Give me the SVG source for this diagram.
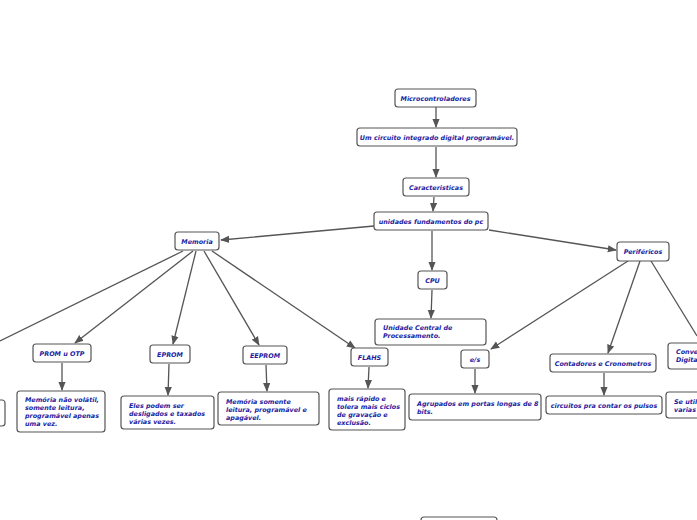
<svg xmlns="http://www.w3.org/2000/svg" width="697" height="520" viewBox="0 0 697 520">
<style>
rect{fill:#fff;stroke:#555;stroke-width:1.2}
text{font-family:"DejaVu Sans",Verdana,sans-serif;font-size:6.4px;font-weight:bold;font-style:italic;fill:#1c1ca0}
.c{text-anchor:middle}
#edges line{stroke:#555;stroke-width:1.3;marker-end:url(#a)}
</style>
<defs><marker id="a" viewBox="0 0 10 10" refX="9" refY="5" markerWidth="7" markerHeight="7" orient="auto"><path d="M0,1L10,5L0,9z" fill="#555"/></marker></defs>
<rect width="697" height="520" style="fill:#fff;stroke:none"/>
<g id="edges">
<line x1="436" y1="107" x2="436" y2="127"/>
<line x1="436" y1="147" x2="436" y2="177"/>
<line x1="434" y1="197" x2="433" y2="211"/>
<line x1="374" y1="226" x2="221" y2="240"/>
<line x1="432" y1="231" x2="432" y2="270"/>
<line x1="432" y1="290" x2="431" y2="318"/>
<line x1="489" y1="230" x2="616" y2="250"/>
<line x1="183" y1="251" x2="0" y2="341" style="marker-end:none"/>
<line x1="193" y1="251" x2="75" y2="343"/>
<line x1="196" y1="251" x2="173" y2="344"/>
<line x1="204" y1="251" x2="259" y2="345"/>
<line x1="212" y1="251" x2="355" y2="348"/>
<line x1="628" y1="261" x2="491" y2="349"/>
<line x1="640" y1="261" x2="608" y2="353"/>
<line x1="651" y1="261" x2="697" y2="336" style="marker-end:none"/>
<line x1="62" y1="363" x2="62" y2="390"/>
<line x1="169" y1="364" x2="168" y2="395"/>
<line x1="266" y1="365" x2="267" y2="391"/>
<line x1="369" y1="367" x2="368" y2="388"/>
<line x1="475" y1="369" x2="475" y2="393"/>
<line x1="604" y1="373" x2="604" y2="395"/>
</g>
<g id="n1"><rect x="395" y="89" width="81" height="18" rx="3"/><text x="435.5" y="100.5" class="c">Microcontroladores</text></g>
<g id="n2"><rect x="357" y="128" width="160" height="18" rx="3"/><text x="437" y="139.5" class="c">Um circuito integrado digital programável.</text></g>
<g id="n3"><rect x="403" y="178" width="66" height="18" rx="3"/><text x="436" y="189.5" class="c">Caracteristicas</text></g>
<g id="n4"><rect x="374" y="212" width="114" height="18" rx="3"/><text x="431" y="223.5" class="c">unidades fundamentos do pc</text></g>
<g id="n5"><rect x="175" y="232" width="44" height="18" rx="3"/><text x="197" y="243.5" class="c">Memoria</text></g>
<g id="n6"><rect x="418" y="271" width="29" height="18" rx="3"/><text x="432.5" y="282.5" class="c">CPU</text></g>
<g id="n7"><rect x="617" y="242" width="52" height="19" rx="3"/><text x="643" y="253.5" class="c">Periféricos</text></g>
<g id="n8"><rect x="375" y="319" width="111" height="26" rx="3"/><text x="383" y="330">Unidade Central de</text><text x="383" y="338">Processamento.</text></g>
<g id="n9"><rect x="33" y="344" width="58" height="18" rx="3"/><text x="62" y="355.5" class="c">PROM u OTP</text></g>
<g id="n10"><rect x="150" y="345" width="40" height="18" rx="3"/><text x="170" y="356.5" class="c">EPROM</text></g>
<g id="n11"><rect x="243" y="346" width="44" height="18" rx="3"/><text x="265" y="357.5" class="c">EEPROM</text></g>
<g id="n12"><rect x="351" y="348" width="37" height="18" rx="3"/><text x="369.5" y="359.5" class="c">FLAHS</text></g>
<g id="n13"><rect x="461" y="350" width="28" height="18" rx="3"/><text x="475" y="361.5" class="c">e/s</text></g>
<g id="n14"><rect x="550" y="354" width="106" height="18" rx="3"/><text x="603" y="365.5" class="c">Contadores e Cronometros</text></g>
<g id="n15"><rect x="668" y="343" width="40" height="26" rx="3"/><text x="676" y="354">Conve</text><text x="676" y="362">Digita</text></g>
<g id="n16"><rect x="-20" y="400" width="25" height="26" rx="3"/></g>
<g id="n17"><rect x="17" y="391" width="88" height="41" rx="3"/><text x="25" y="402">Memória não volátil,</text><text x="25" y="410">somente leitura,</text><text x="25" y="418">programável apenas</text><text x="25" y="426">uma vez.</text></g>
<g id="n18"><rect x="121" y="396" width="93" height="33" rx="3"/><text x="129" y="408">Eles podem ser</text><text x="129" y="416">desligados e taxados</text><text x="129" y="424">várias vezes.</text></g>
<g id="n19"><rect x="218" y="392" width="101" height="33" rx="3"/><text x="226" y="404">Memória somente</text><text x="226" y="412">leitura, programável e</text><text x="226" y="420">apagável.</text></g>
<g id="n20"><rect x="329" y="389" width="76" height="41" rx="3"/><text x="337" y="401">mais rápido e</text><text x="337" y="409">tolera mais ciclos</text><text x="337" y="417">de gravação e</text><text x="337" y="425">exclusão.</text></g>
<g id="n21"><rect x="409" y="394" width="132" height="26" rx="3"/><text x="417" y="406">Agrupados em portas longas de 8</text><text x="417" y="414">bits.</text></g>
<g id="n22"><rect x="546" y="396" width="116" height="18" rx="3"/><text x="604" y="407.5" class="c">circuitos pra contar os pulsos</text></g>
<g id="n23"><rect x="666" y="392" width="40" height="26" rx="3"/><text x="674" y="404">Se utili</text><text x="674" y="412">varias</text></g>
<g id="n24"><rect x="421" y="517" width="76" height="18" rx="3"/></g>
</svg>
